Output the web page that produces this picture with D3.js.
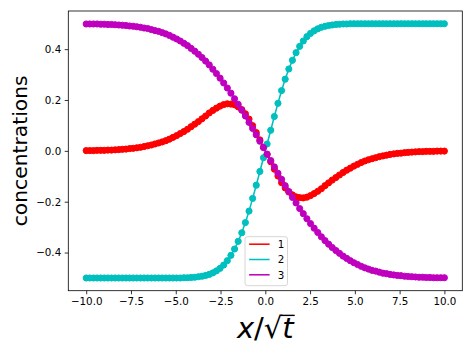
<!DOCTYPE html>
<html>
<head>
<meta charset="utf-8">
<script src="https://cdn.jsdelivr.net/npm/d3@7"></script>
<style>
  body { margin: 0; background: #fff; }
  svg { display: block; font-family: "DejaVu Sans", sans-serif; }
</style>
</head>
<body>
<div id="chart"></div>
<script>
// x / sqrt(t) sample points
const xs = [
  -10.000,-9.798,-9.596,-9.394,-9.192,-8.990,-8.788,-8.586,-8.384,-8.182,
  -7.980,-7.778,-7.576,-7.374,-7.172,-6.970,-6.768,-6.566,-6.364,-6.162,
  -5.960,-5.758,-5.556,-5.354,-5.152,-4.949,-4.747,-4.545,-4.343,-4.141,
  -3.939,-3.737,-3.535,-3.333,-3.131,-2.929,-2.727,-2.525,-2.323,-2.121,
  -1.919,-1.717,-1.515,-1.313,-1.111,-0.909,-0.707,-0.505,-0.303,-0.101,
  0.101,0.303,0.505,0.707,0.909,1.111,1.313,1.515,1.717,1.919,
  2.121,2.323,2.525,2.727,2.929,3.131,3.333,3.535,3.737,3.939,
  4.141,4.343,4.545,4.747,4.949,5.152,5.354,5.556,5.758,5.960,
  6.162,6.364,6.566,6.768,6.970,7.172,7.374,7.576,7.778,7.980,
  8.182,8.384,8.586,8.788,8.990,9.192,9.394,9.596,9.798,10.000
];

// concentration of component 1
const conc1 = [
  0.001,0.001,0.001,0.002,0.002,0.002,0.003,0.003,0.004,0.005,
  0.006,0.007,0.009,0.010,0.012,0.014,0.017,0.020,0.023,0.027,
  0.031,0.035,0.040,0.046,0.053,0.060,0.068,0.076,0.085,0.095,
  0.105,0.115,0.126,0.137,0.149,0.159,0.168,0.176,0.182,0.185,
  0.184,0.181,0.173,0.162,0.146,0.125,0.099,0.072,0.043,0.014,
  -0.014,-0.043,-0.072,-0.099,-0.125,-0.146,-0.162,-0.173,-0.181,-0.184,
  -0.185,-0.182,-0.176,-0.168,-0.159,-0.149,-0.137,-0.126,-0.115,-0.105,
  -0.095,-0.085,-0.076,-0.068,-0.060,-0.053,-0.046,-0.040,-0.035,-0.031,
  -0.027,-0.023,-0.020,-0.017,-0.014,-0.012,-0.010,-0.009,-0.007,-0.006,
  -0.005,-0.004,-0.003,-0.003,-0.002,-0.002,-0.002,-0.001,-0.001,-0.001
];

// component 2
const conc2 = [
  -0.5,-0.5,-0.5,-0.5,-0.5,-0.5,-0.5,-0.5,-0.5,-0.5,
  -0.5,-0.5,-0.5,-0.5,-0.5,-0.5,-0.5,-0.5,-0.5,-0.5,
  -0.5,-0.5,-0.5,-0.5,-0.5,-0.5,-0.5,-0.499,-0.499,-0.498,
  -0.497,-0.495,-0.493,-0.490,-0.486,-0.480,-0.472,-0.462,-0.449,-0.432,
  -0.411,-0.386,-0.356,-0.322,-0.282,-0.237,-0.187,-0.135,-0.081,-0.027,
  0.027,0.081,0.135,0.187,0.237,0.282,0.322,0.356,0.386,0.411,
  0.432,0.449,0.462,0.472,0.480,0.486,0.490,0.493,0.495,0.497,
  0.498,0.499,0.499,0.5,0.5,0.5,0.5,0.5,0.5,0.5,
  0.5,0.5,0.5,0.5,0.5,0.5,0.5,0.5,0.5,0.5,
  0.5,0.5,0.5,0.5,0.5,0.5,0.5,0.5,0.5,0.5
];

// component 3
const conc3 = [
  0.499,0.499,0.499,0.499,0.498,0.498,0.497,0.497,0.496,0.495,
  0.494,0.493,0.491,0.490,0.488,0.486,0.483,0.481,0.477,0.473,
  0.470,0.465,0.460,0.454,0.447,0.440,0.432,0.423,0.414,0.403,
  0.392,0.380,0.367,0.353,0.338,0.321,0.304,0.286,0.267,0.247,
  0.227,0.205,0.183,0.160,0.137,0.112,0.088,0.063,0.038,0.013,
  -0.013,-0.038,-0.063,-0.088,-0.112,-0.137,-0.160,-0.183,-0.205,-0.227,
  -0.247,-0.267,-0.286,-0.304,-0.321,-0.338,-0.353,-0.367,-0.380,-0.392,
  -0.403,-0.414,-0.423,-0.432,-0.440,-0.447,-0.454,-0.460,-0.465,-0.470,
  -0.473,-0.477,-0.481,-0.483,-0.486,-0.488,-0.490,-0.491,-0.493,-0.494,
  -0.495,-0.496,-0.497,-0.497,-0.498,-0.498,-0.499,-0.499,-0.499,-0.499
];

const seriesNames = ['1', '2', '3'];
const xTicks = [-10, -7.5, -5, -2.5, 0, 2.5, 5, 7.5, 10];
const yTicks = [-0.4, -0.2, 0, 0.2, 0.4];

const colors = ['#ff0000', '#00bfbf', '#bf00bf'];
const series = [conc1, conc2, conc3].map((vals, k) => ({
  name: seriesNames[k],
  color: colors[k],
  points: xs.map((x, i) => ({ x, y: vals[i] }))
}));

const width = 474, height = 355;
const margin = { top: 11, right: 11.7, bottom: 64.3, left: 68.3 };
const w = width - margin.left - margin.right;
const h = height - margin.top - margin.bottom;

const svg = d3.select('#chart').append('svg').attr('width', width).attr('height', height);
const g = svg.append('g').attr('transform', `translate(${margin.left},${margin.top})`);

const x = d3.scaleLinear().domain([-11, 11]).range([0, w]);
const y = d3.scaleLinear().domain([-0.55, 0.55]).range([h, 0]);

const fmt = d3.format('.1f');
const tickFont = '10.3px';

const xAxis = g.append('g').attr('transform', `translate(0,${h})`)
  .call(d3.axisBottom(x).tickValues(xTicks).tickFormat(fmt).tickSize(3.6).tickPadding(3.5));
const yAxis = g.append('g')
  .call(d3.axisLeft(y).tickValues(yTicks).tickFormat(fmt).tickSize(3.6).tickPadding(3.5));
[xAxis, yAxis].forEach(a => {
  a.select('.domain').remove();
  a.selectAll('line').attr('stroke', '#000').attr('stroke-width', 0.8);
  a.selectAll('text').attr('fill', '#000').style('font-size', tickFont)
    .style('font-family', '"DejaVu Sans", sans-serif');
});

// data lines + markers (marker edge like matplotlib's 1pt edge)
const line = d3.line().x(d => x(d.x)).y(d => y(d.y));
series.forEach(s => {
  const sg = g.append('g');
  sg.append('path').datum(s.points).attr('d', line)
    .attr('fill', 'none').attr('stroke', s.color).attr('stroke-width', 1.54);
  sg.selectAll('circle').data(s.points).enter().append('circle')
    .attr('cx', d => x(d.x)).attr('cy', d => y(d.y)).attr('r', 3.08)
    .attr('fill', s.color).attr('stroke', s.color).attr('stroke-width', 1);
});

// frame
g.append('rect').attr('width', w).attr('height', h)
  .attr('fill', 'none').attr('stroke', '#000').attr('stroke-width', 0.8);

// legend
const lg = svg.append('g').attr('transform', 'translate(245,236.7)');
lg.append('rect').attr('width', 42.5).attr('height', 49).attr('rx', 2.5)
  .attr('fill', '#fff').attr('fill-opacity', 0.8)
  .attr('stroke', '#cccccc').attr('stroke-width', 0.8);
series.forEach((s, i) => {
  const cy = 7.5 + i * 15.3;
  lg.append('line').attr('x1', 4.1).attr('x2', 24.6).attr('y1', cy).attr('y2', cy)
    .attr('stroke', s.color).attr('stroke-width', 1.54);
  lg.append('text').attr('x', 32.8).attr('y', cy + 3.8)
    .style('font-size', tickFont).attr('fill', '#000').text(s.name);
});

// y label
svg.append('text')
  .attr('transform', `translate(27.3,${margin.top + h / 2}) rotate(-90)`)
  .attr('text-anchor', 'middle').style('font-size', '20.3px').attr('fill', '#000')
  .text('concentrations');

// x label: x/√t
const xl = svg.append('text').attr('x', margin.left + w / 2).attr('y', 338)
  .attr('text-anchor', 'middle').style('font-size', '29px').attr('fill', '#000');
xl.append('tspan').style('font-style', 'italic').text('x');
xl.append('tspan').text('/');
xl.append('tspan').text('√');
xl.append('tspan').style('font-style', 'italic').text('t');
const node = xl.node();
const rad = node.getExtentOfChar(2);
const tt = node.getExtentOfChar(3);
svg.append('line')
  .attr('x1', rad.x + rad.width - 1).attr('x2', tt.x + tt.width + 1)
  .attr('y1', 338 - 29 * 0.78).attr('y2', 338 - 29 * 0.78)
  .attr('stroke', '#000').attr('stroke-width', 1.4);
</script>
</body>
</html>
